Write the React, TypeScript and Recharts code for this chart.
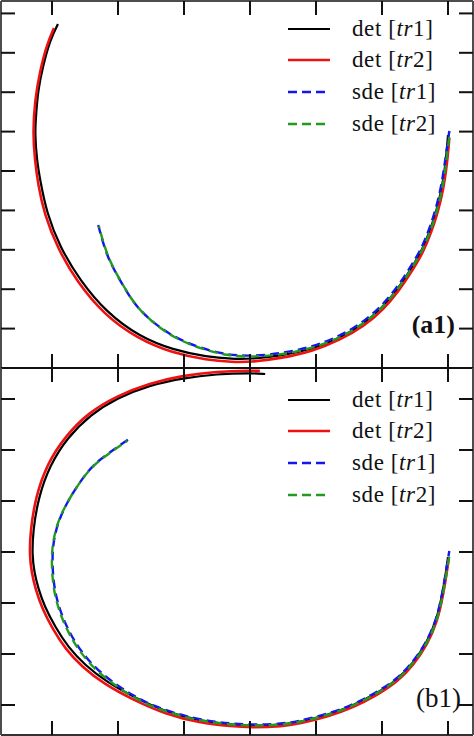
import React from "react";
import { LineChart, Line, XAxis, YAxis } from "recharts";

// tick values (no labels are printed on the figure)
const X_TICKS = [-3, -2, -1, 0, 1, 2, 3];
const TOP_Y_TICKS = [1, 2, 3, 4, 5, 6, 7, 8, 9];
const BOTTOM_Y_TICKS = [-3, -2, -1, 0, 1, 2, 3];

// panel (a1)
const a1DetTr1 = [
  [-2.91, 8.73], [-3.03, 8.32], [-3.14, 7.64], [-3.21, 7.06], [-3.24, 6.47], [-3.26, 5.96],
  [-3.23, 5.28], [-3.18, 4.77], [-3.08, 3.93], [-2.88, 3.07], [-2.58, 2.23], [-2.17, 1.4],
  [-1.67, 0.79], [-1.17, 0.46], [-0.65, 0.28], [-0.26, 0.23], [0, 0.23], [0.45, 0.3],
  [0.95, 0.48], [1.36, 0.76], [1.7, 1.09], [2.0, 1.52], [2.24, 2.01], [2.42, 2.46],
  [2.61, 2.99], [2.73, 3.5], [2.83, 4.01], [2.91, 4.59], [2.95, 5.03], [2.98, 5.48], [3.0, 5.91],
];
const a1DetTr2 = [
  [-2.97, 8.63], [-3.08, 8.2], [-3.18, 7.56], [-3.26, 6.8], [-3.29, 5.96], [-3.26, 5.28],
  [-3.21, 4.64], [-3.12, 3.93], [-2.92, 3.05], [-2.62, 2.18], [-2.21, 1.35], [-1.7, 0.74],
  [-1.18, 0.38], [-0.65, 0.2], [-0.26, 0.15], [0, 0.15], [0.45, 0.24], [0.96, 0.43],
  [1.37, 0.72], [1.72, 1.05], [2.02, 1.48], [2.26, 1.97], [2.44, 2.42], [2.63, 2.95],
  [2.75, 3.46], [2.85, 3.97], [2.93, 4.55], [2.97, 4.99], [3.0, 5.44], [3.02, 5.84],
];
const a1SdeTr1 = [
  [-2.3, 3.63], [-2.17, 2.82], [-1.97, 2.23], [-1.77, 1.65], [-1.52, 1.22], [-1.17, 0.79],
  [-0.76, 0.51], [-0.35, 0.33], [0, 0.3], [0.45, 0.36], [0.94, 0.53], [1.35, 0.8],
  [1.69, 1.13], [1.99, 1.56], [2.23, 2.05], [2.41, 2.5], [2.6, 3.03], [2.72, 3.54],
  [2.82, 4.05], [2.9, 4.63], [2.94, 5.07], [2.98, 5.52], [3.02, 6.02],
];
const a1SdeTr2 = [
  [-2.29, 3.6], [-2.16, 2.8], [-1.96, 2.21], [-1.76, 1.63], [-1.51, 1.2], [-1.16, 0.77],
  [-0.75, 0.49], [-0.34, 0.31], [0, 0.28], [0.46, 0.33], [0.95, 0.5], [1.37, 0.77],
  [1.71, 1.1], [2.01, 1.53], [2.25, 2.02], [2.43, 2.47], [2.62, 3.0], [2.74, 3.51],
  [2.84, 4.02], [2.92, 4.6], [2.96, 5.04], [2.99, 5.49], [3.03, 6.0],
];

// panel (b1)
const b1DetTr1 = [
  [0.23, 3.49], [0, 3.51], [-0.5, 3.49], [-1.02, 3.41], [-1.52, 3.27], [-2.02, 3.02],
  [-2.42, 2.69], [-2.77, 2.24], [-3.03, 1.71], [-3.21, 1.06], [-3.29, 0.39], [-3.3, -0.06],
  [-3.27, -0.39], [-3.21, -0.71], [-3.11, -1.08], [-2.95, -1.47], [-2.76, -1.86], [-2.5, -2.22],
  [-2.17, -2.55], [-1.74, -2.86], [-1.26, -3.14], [-0.76, -3.31], [-0.26, -3.39], [0, -3.41],
  [0.5, -3.39], [0.76, -3.33], [1.17, -3.2], [1.55, -3.02], [1.91, -2.78], [2.23, -2.51],
  [2.47, -2.18], [2.68, -1.78], [2.83, -1.33], [2.92, -0.8], [2.98, -0.3], [3.0, -0.1],
];
const b1DetTr2 = [
  [0.15, 3.55], [0, 3.56], [-0.5, 3.54], [-1.02, 3.46], [-1.52, 3.31], [-2.02, 3.06],
  [-2.45, 2.73], [-2.8, 2.27], [-3.07, 1.74], [-3.25, 1.08], [-3.33, 0.39], [-3.34, -0.06],
  [-3.31, -0.4], [-3.25, -0.73], [-3.15, -1.11], [-2.99, -1.51], [-2.8, -1.9], [-2.54, -2.26],
  [-2.21, -2.59], [-1.77, -2.9], [-1.28, -3.18], [-0.77, -3.35], [-0.26, -3.42], [0, -3.44],
  [0.5, -3.42], [0.77, -3.36], [1.18, -3.23], [1.56, -3.05], [1.92, -2.81], [2.24, -2.54],
  [2.48, -2.21], [2.69, -1.81], [2.84, -1.36], [2.93, -0.83], [2.99, -0.33], [3.01, -0.14],
];
const b1SdeTr1 = [
  [-1.85, 2.2], [-2.12, 1.96], [-2.38, 1.71], [-2.58, 1.37], [-2.77, 0.98], [-2.91, 0.59],
  [-2.98, 0.2], [-3.0, -0.16], [-2.97, -0.75], [-2.85, -1.27], [-2.67, -1.75], [-2.41, -2.2],
  [-2.11, -2.53], [-1.77, -2.82], [-1.47, -3.02], [-0.95, -3.24], [-0.45, -3.35], [0, -3.39],
  [0.5, -3.37], [0.76, -3.31], [1.17, -3.18], [1.55, -3.0], [1.91, -2.76], [2.23, -2.49],
  [2.47, -2.16], [2.68, -1.76], [2.83, -1.31], [2.92, -0.78], [2.98, -0.29], [3.02, 0.02],
];
const b1SdeTr2 = [
  [-1.86, 2.18], [-2.13, 1.94], [-2.39, 1.69], [-2.59, 1.35], [-2.78, 0.96], [-2.92, 0.57],
  [-2.99, 0.18], [-3.01, -0.18], [-2.98, -0.77], [-2.86, -1.29], [-2.68, -1.77], [-2.42, -2.22],
  [-2.12, -2.55], [-1.78, -2.84], [-1.48, -3.04], [-0.96, -3.26], [-0.45, -3.37], [0, -3.41],
  [0.5, -3.39], [0.77, -3.33], [1.18, -3.2], [1.56, -3.02], [1.92, -2.78], [2.24, -2.51],
  [2.48, -2.18], [2.69, -1.78], [2.84, -1.33], [2.93, -0.8], [2.99, -0.31], [3.03, 0.0],
];

const SERIES = [
  { key: "det1", label: "det", tr: "1", color: "#000000", width: 2.2, dash: undefined, offset: 0 },
  { key: "det2", label: "det", tr: "2", color: "#ee1111", width: 2.6, dash: undefined, offset: 0 },
  { key: "sde1", label: "sde", tr: "1", color: "#1515ee", width: 2.4, dash: "9 5", offset: 0 },
  { key: "sde2", label: "sde", tr: "2", color: "#229a22", width: 2.4, dash: "9 5", offset: 7 },
];

const W = 474;
const PANEL_H = 369;
const X_DOMAIN: [number, number] = [-3.773, 3.379];
const FRAME = "#4d4d4d";
const INK = "#111111";
const SERIF = "'Liberation Serif', 'Times New Roman', serif";

const toPoints = (rows: number[][]) => rows.map(([x, y]) => ({ x, y }));
const noLabel = () => "";

function Legend({ top }: { top: number }) {
  return (
    <div style={{ position: "absolute", top, left: 288, fontFamily: SERIF, fontSize: 23, letterSpacing: 0.6 }}>
      {SERIES.map((s) => (
        <div key={s.key} style={{ display: "flex", alignItems: "center", height: 31.6, whiteSpace: "nowrap" }}>
          <svg width={42} height={6} style={{ marginRight: 22 }}>
            <line x1={0} y1={3} x2={42} y2={3} stroke={s.color} strokeWidth={s.width} strokeDasharray={s.dash} />
          </svg>
          <span style={{ color: "#111" }}>
            {s.label} [<i>tr</i>{s.tr}]
          </span>
        </div>
      ))}
    </div>
  );
}

interface PanelProps {
  series: number[][][];
  yDomain: [number, number];
  yTicks: number[];
  bottomFrame: string;
  topFrame: string;
  tag: string;
  tagBold: boolean;
  tagSize: number;
  tagTop: number;
  tagRight: number;
  legendTop: number;
}

function Panel(p: PanelProps) {
  const axisStyle = (stroke: string) => ({ stroke, strokeWidth: 2 });
  const tickStyle = { stroke: INK, strokeWidth: 2 };
  // negative tickSize turns the ticks inward; labels are blank
  const common = { allowDataOverflow: true, tickSize: -14, tickFormatter: noLabel, interval: 0 as const, tickLine: tickStyle };
  return (
    <div style={{ position: "relative", width: W, height: PANEL_H }}>
      <LineChart width={W} height={PANEL_H} margin={{ top: 0, right: 0, bottom: 0, left: 0 }}>
        <XAxis
          {...common}
          xAxisId="b"
          type="number"
          dataKey="x"
          domain={X_DOMAIN}
          ticks={X_TICKS}
          height={1}
          axisLine={axisStyle(p.bottomFrame)}
        />
        <XAxis
          {...common}
          xAxisId="t"
          orientation="top"
          type="number"
          dataKey="x"
          domain={X_DOMAIN}
          ticks={X_TICKS}
          height={1}
          axisLine={axisStyle(p.topFrame)}
        />
        <YAxis
          {...common}
          yAxisId="l"
          type="number"
          domain={p.yDomain}
          ticks={p.yTicks}
          width={1}
          axisLine={axisStyle(FRAME)}
        />
        <YAxis
          {...common}
          yAxisId="r"
          orientation="right"
          type="number"
          domain={p.yDomain}
          ticks={p.yTicks}
          width={1}
          axisLine={axisStyle(FRAME)}
        />
        {SERIES.map((s, i) => (
          <Line
            key={s.key}
            xAxisId="b"
            yAxisId="l"
            data={toPoints(p.series[i])}
            dataKey="y"
            type="basis"
            stroke={s.color}
            strokeWidth={s.width}
            strokeDasharray={s.dash}
            strokeDashoffset={s.offset}
            dot={false}
            activeDot={false}
            isAnimationActive={false}
          />
        ))}
      </LineChart>
      <Legend top={p.legendTop} />
      <div
        style={{
          position: "absolute",
          top: p.tagTop,
          right: p.tagRight,
          fontFamily: SERIF,
          fontSize: p.tagSize,
          fontWeight: p.tagBold ? 700 : 400,
          lineHeight: 1,
          color: "#111",
        }}
      >
        {p.tag}
      </div>
    </div>
  );
}

export default function App() {
  return (
    <div style={{ position: "relative", width: W, height: 736, background: "#fff", overflow: "hidden" }}>
      <style>{"body{margin:0;background:#fff}"}</style>
      <div style={{ position: "absolute", top: 0, left: 0 }}>
        <Panel
          series={[a1DetTr1, a1DetTr2, a1SdeTr1, a1SdeTr2]}
          yDomain={[0, 9.315]}
          yTicks={TOP_Y_TICKS}
          bottomFrame={INK}
          topFrame={FRAME}
          tag="(a1)"
          tagBold
          tagSize={26}
          tagTop={312}
          tagRight={19}
          legendTop={13}
        />
      </div>
      <div style={{ position: "absolute", top: 367, left: 0 }}>
        <Panel
          series={[b1DetTr1, b1DetTr2, b1SdeTr1, b1SdeTr2]}
          yDomain={[-3.588, 3.608]}
          yTicks={BOTTOM_Y_TICKS}
          bottomFrame="#333333"
          topFrame={INK}
          tag="(b1)"
          tagBold={false}
          tagSize={27}
          tagTop={318}
          tagRight={13}
          legendTop={17}
        />
      </div>
    </div>
  );
}
